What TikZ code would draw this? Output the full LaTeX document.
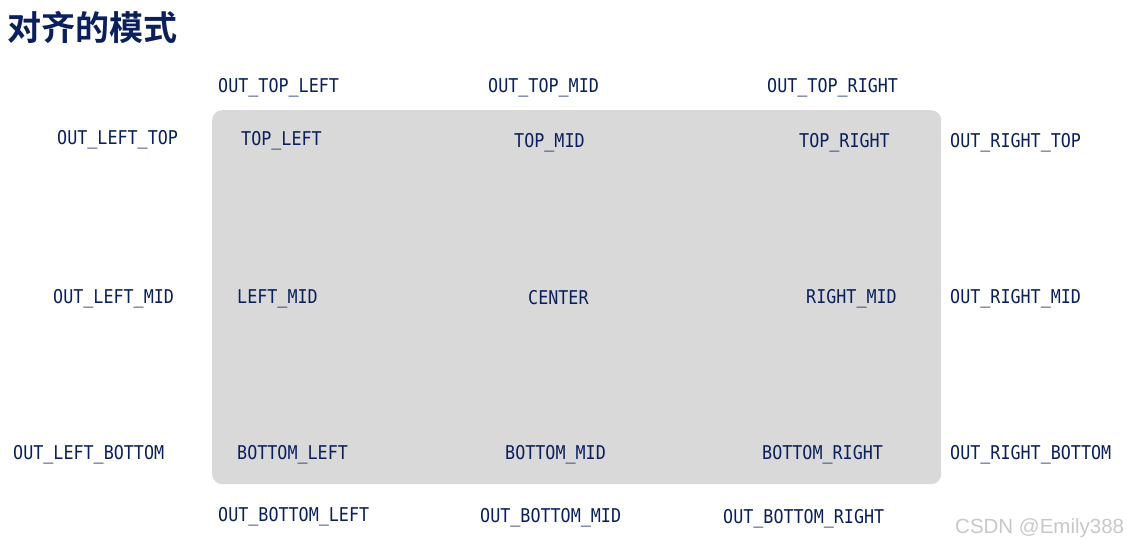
\documentclass[tikz,border=0pt]{standalone}
\usepackage{fontspec}
\setmonofont{DejaVu Sans Mono}[FakeStretch=0.88]
\setsansfont{Liberation Sans}
\newfontfamily\cjk{Noto Sans CJK SC}[BoldFont={Noto Sans CJK SC Bold}]
\definecolor{navy}{HTML}{0A1F5C}
\definecolor{boxgray}{HTML}{D9D9D9}
\definecolor{wm}{HTML}{C8C8C8}
\begin{document}
\begin{tikzpicture}[x=1pt,y=-1pt,
  lbl/.style={font=\ttfamily\fontsize{19}{19}\selectfont, text=navy, inner sep=0pt, anchor=west}]
\useasboundingbox (0,0) rectangle (1129,548);
\node[font=\cjk\bfseries\fontsize{34}{34}\selectfont, text=navy, inner sep=0pt, anchor=west] (title) at (7,27) {对齐的模式};
\node[fill=boxgray, rounded corners=10pt, minimum width=729pt, minimum height=374pt, inner sep=0pt, anchor=north west] (box) at (212,110) {};
\node[lbl] (otl) at (218,88) {OUT\_TOP\_LEFT};
\node[lbl] (otm) at (488,88) {OUT\_TOP\_MID};
\node[lbl] (otr) at (767,88) {OUT\_TOP\_RIGHT};
\node[lbl] (olt) at (57,140) {OUT\_LEFT\_TOP};
\node[lbl] (tl) at (241,141) {TOP\_LEFT};
\node[lbl] (tm) at (514,143) {TOP\_MID};
\node[lbl] (tr) at (799,143) {TOP\_RIGHT};
\node[lbl] (ort) at (950,143) {OUT\_RIGHT\_TOP};
\node[lbl] (olm) at (53,299) {OUT\_LEFT\_MID};
\node[lbl] (lm) at (237,299) {LEFT\_MID};
\node[lbl] (c) at (528,298) {CENTER};
\node[lbl] (rm) at (806,299) {RIGHT\_MID};
\node[lbl] (orm) at (950,299) {OUT\_RIGHT\_MID};
\node[lbl] (olb) at (13,455) {OUT\_LEFT\_BOTTOM};
\node[lbl] (bl) at (237,455) {BOTTOM\_LEFT};
\node[lbl] (bm) at (505,455) {BOTTOM\_MID};
\node[lbl] (br) at (762,455) {BOTTOM\_RIGHT};
\node[lbl] (orb) at (950,455) {OUT\_RIGHT\_BOTTOM};
\node[lbl] (obl) at (218,517) {OUT\_BOTTOM\_LEFT};
\node[lbl] (obm) at (480,518) {OUT\_BOTTOM\_MID};
\node[lbl] (obr) at (723,519) {OUT\_BOTTOM\_RIGHT};
\node[font=\sffamily\fontsize{20.5}{20.5}\selectfont, text=wm, inner sep=0pt, anchor=west] (wmk) at (955,528) {CSDN @Emily388};
\end{tikzpicture}
\end{document}
